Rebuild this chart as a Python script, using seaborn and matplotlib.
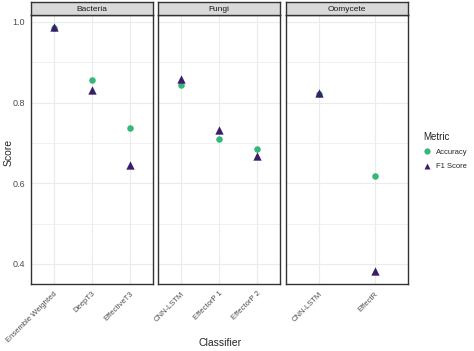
import matplotlib
matplotlib.use('Agg')
import matplotlib.pyplot as plt
import seaborn as sns
import pandas as pd
from matplotlib.lines import Line2D

kingdoms = ['Bacteria', 'Bacteria', 'Bacteria', 'Fungi', 'Fungi', 'Fungi', 'Oomycete', 'Oomycete']
classifiers = ['Ensemble Weighted', 'DeepT3', 'EffectiveT3', 'CNN-LSTM', 'EffectorP 1', 'EffectorP 2', 'CNN-LSTM', 'EffectR']
accuracy = [0.985, 0.856, 0.736, 0.843, 0.710, 0.684, 0.822, 0.618]
f1_score = [0.987, 0.831, 0.644, 0.858, 0.732, 0.667, 0.824, 0.382]

panels = ['Bacteria', 'Fungi', 'Oomycete']
metrics = ['Accuracy', 'F1 Score']
palette = {'Accuracy': '#35b779', 'F1 Score': '#3b1c6b'}
markers = {'Accuracy': 'o', 'F1 Score': '^'}

df = pd.DataFrame({'Kingdom': kingdoms, 'Classifier': classifiers,
                   'Accuracy': accuracy, 'F1 Score': f1_score})
long_df = df.melt(id_vars=['Kingdom', 'Classifier'], value_vars=metrics,
                  var_name='Metric', value_name='Score')

sns.set_style('white')
plt.rcParams['font.family'] = ['Liberation Sans', 'DejaVu Sans']

fig = plt.figure(figsize=(4.74, 3.51), dpi=100)

W, H = 474, 351
lefts = [31, 158, 286]
pw = 122
top, bottom = 15, 284
strip_top = 2

grid_col = '#ebebeb'
for i, k in enumerate(panels):
    ax = fig.add_axes([lefts[i] / W, 1 - bottom / H, pw / W, (bottom - top) / H])
    sub = long_df[long_df['Kingdom'] == k].copy()
    cats = list(dict.fromkeys(sub['Classifier']))
    sub['x'] = sub['Classifier'].map({c: j for j, c in enumerate(cats)})
    for y in [0.4, 0.5, 0.6, 0.7, 0.8, 0.9, 1.0]:
        lw = 0.8 if round(y * 10) % 2 == 0 else 0.5
        ax.axhline(y, color=grid_col, lw=lw, zorder=0)
    for j in range(len(cats)):
        ax.axvline(j, color=grid_col, lw=0.8, zorder=0)
    acc = sub[sub['Metric'] == 'Accuracy']
    f1 = sub[sub['Metric'] == 'F1 Score']
    sns.scatterplot(data=acc, x='x', y='Score', color=palette['Accuracy'],
                    marker='o', s=22, linewidth=0, ax=ax, legend=False, zorder=3)
    sns.scatterplot(data=f1, x='x', y='Score', color=palette['F1 Score'],
                    marker='^', s=36, linewidth=0, ax=ax, legend=False, zorder=4)
    ax.set_xlim(-0.6, len(cats) - 1 + 0.6)
    ax.set_ylim(0.35, 1.017)
    ax.set_xticks(range(len(cats)))
    ax.set_xticklabels(cats, rotation=45, ha='right', va='top',
                       rotation_mode='anchor', fontsize=5.5, color='#4d4d4d')
    ax.set_yticks([0.4, 0.6, 0.8, 1.0])
    ax.tick_params(axis='both', direction='out', length=2.5, width=0.6,
                   color='#333333', pad=2)
    if i == 0:
        ax.set_yticklabels(['0.4', '0.6', '0.8', '1.0'], fontsize=6.5, color='#4d4d4d')
    else:
        ax.set_yticklabels([])
        ax.tick_params(axis='y', length=0)
    ax.set_xlabel('')
    ax.set_ylabel('')
    for sp in ax.spines.values():
        sp.set_color('#333333')
        sp.set_linewidth(1.0)

    sax = fig.add_axes([lefts[i] / W, 1 - top / H, pw / W, (top - strip_top) / H])
    sax.set_facecolor('#d9d9d9')
    sax.set_xticks([])
    sax.set_yticks([])
    for sp in sax.spines.values():
        sp.set_color('#333333')
        sp.set_linewidth(1.0)
    sax.text(0.5, 0.45, k, ha='center', va='center', fontsize=6,
             color='#1a1a1a', transform=sax.transAxes)

fig.text(9 / W, 1 - 152 / H, 'Score', rotation=90, ha='center', va='center',
         fontsize=7.5)
fig.text(220 / W, 1 - 343 / H, 'Classifier', ha='center', va='center',
         fontsize=7.5)

handles = [Line2D([0], [0], marker=markers[m], color='none',
                  markerfacecolor=palette[m], markeredgecolor='none',
                  markersize=4.5, label=m) for m in metrics]
fig.legend(handles=handles, title='Metric', loc='upper left',
           bbox_to_anchor=(416 / W, 1 - 125 / H), frameon=False,
           fontsize=5.5, title_fontsize=7, handletextpad=0.5,
           handlelength=1.2, labelspacing=0.9, alignment='left')

fig.savefig('out.png', dpi=100)
